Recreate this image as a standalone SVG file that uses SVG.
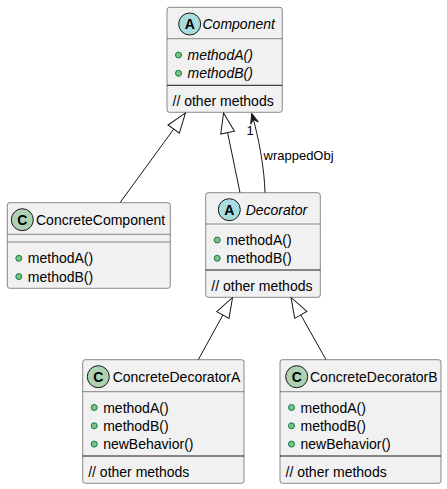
<svg xmlns="http://www.w3.org/2000/svg" width="447" height="489" viewBox="0 0 447 489">
<defs>
<style>
.box{fill:#F1F1F1;stroke:#181818;stroke-width:0.5}
.hsep{stroke:#181818;stroke-width:0.5}
.bsep{stroke:#181818;stroke-width:1}
.circA{fill:#A9DCDF;stroke:#181818;stroke-width:1}
.circC{fill:#ADD1B2;stroke:#181818;stroke-width:1}
.glyph{font-family:"Liberation Sans",Arial,sans-serif;font-size:14px;font-weight:bold;fill:#000000;text-anchor:middle}
.name{font-family:"Liberation Sans",Arial,sans-serif;font-size:14px;fill:#000000}
.mem{font-family:"Liberation Sans",Arial,sans-serif;font-size:14px;fill:#000000}
.it{font-style:italic}
.dot{fill:#84BE84;stroke:#038048;stroke-width:1}
.edge{fill:none;stroke:#181818;stroke-width:1}
.lbl{font-family:"Liberation Sans",Arial,sans-serif;font-size:13px;fill:#000000}
</style>
<marker id="ext" markerUnits="userSpaceOnUse" markerWidth="22" markerHeight="16" viewBox="-1 -8 22 16" refX="0" refY="0" orient="auto">
<polygon points="0,-7 20,0 0,7" fill="none" stroke="#181818" stroke-width="1"/>
</marker>
<marker id="arr" markerUnits="userSpaceOnUse" markerWidth="12" markerHeight="10" viewBox="-11 -5 12 10" refX="0" refY="0" orient="auto">
<polygon points="0,0 -10,-4 -6,0 -10,4" fill="#181818" stroke="#181818" stroke-width="1"/>
</marker>
</defs>
<rect width="447" height="489" fill="#FFFFFF"/>

<g id="connectors">
<path class="edge" d="M120,202.7 L173.7,129.1" marker-end="url(#ext)"/>
<path class="edge" d="M240,192.7 L227.6,132.6" marker-end="url(#ext)"/>
<path class="edge" d="M265,192.7 C264.5,170 259,138 251.7,113.5" marker-end="url(#arr)"/>
<text class="lbl" x="246.5" y="135">1</text>
<text class="lbl" x="263.5" y="159.5">wrappedObj</text>
<path class="edge" d="M198.3,359.7 L222.9,315" marker-end="url(#ext)"/>
<path class="edge" d="M326,359.7 L300.8,314.9" marker-end="url(#ext)"/>
</g>

<g id="Component">
<rect class="box" x="167" y="7.3" width="115.3" height="105" rx="2.5" ry="2.5"/>
<circle class="circA" cx="189.7" cy="24" r="11"/>
<text class="glyph" x="189.7" y="29">A</text>
<text class="name it" x="202.5" y="29">Component</text>
<line class="hsep" x1="167" y1="38.7" x2="282.3" y2="38.7"/>
<circle class="dot" cx="178.5" cy="55" r="3"/>
<text class="mem it" x="187.5" y="60">methodA()</text>
<circle class="dot" cx="178.5" cy="73.3" r="3"/>
<text class="mem it" x="187.5" y="78.3">methodB()</text>
<line class="bsep" x1="167" y1="85.3" x2="282.3" y2="85.3"/>
<text class="mem" x="172.5" y="105.7">// other methods</text>
</g>

<g id="ConcreteComponent">
<rect class="box" x="7.3" y="202.7" width="163" height="85.6" rx="2.5" ry="2.5"/>
<circle class="circC" cx="22.3" cy="219.7" r="11"/>
<text class="glyph" x="22.3" y="224.7">C</text>
<text class="name" x="36" y="224.7">ConcreteComponent</text>
<line class="hsep" x1="7.3" y1="234.3" x2="170.3" y2="234.3"/>
<line class="hsep" x1="7.3" y1="242" x2="170.3" y2="242"/>
<circle class="dot" cx="18.8" cy="258.3" r="3"/>
<text class="mem" x="27.8" y="263.3">methodA()</text>
<circle class="dot" cx="18.8" cy="276.6" r="3"/>
<text class="mem" x="27.8" y="281.6">methodB()</text>
</g>

<g id="Decorator">
<rect class="box" x="205.7" y="192.7" width="114.6" height="104.6" rx="2.5" ry="2.5"/>
<circle class="circA" cx="229.3" cy="209.7" r="11"/>
<text class="glyph" x="229.3" y="214.7">A</text>
<text class="name it" x="245.7" y="214.7">Decorator</text>
<line class="hsep" x1="205.7" y1="224" x2="320.3" y2="224"/>
<circle class="dot" cx="217.2" cy="240" r="3"/>
<text class="mem" x="226.2" y="245">methodA()</text>
<circle class="dot" cx="217.2" cy="258.3" r="3"/>
<text class="mem" x="226.2" y="263.3">methodB()</text>
<line class="bsep" x1="205.7" y1="270" x2="320.3" y2="270"/>
<text class="mem" x="211.3" y="291">// other methods</text>
</g>

<g id="ConcreteDecoratorA">
<rect class="box" x="82.7" y="359.7" width="161.3" height="123.6" rx="2.5" ry="2.5"/>
<circle class="circC" cx="98.3" cy="376.7" r="11"/>
<text class="glyph" x="98.3" y="381.7">C</text>
<text class="name" x="112.7" y="381.7">ConcreteDecoratorA</text>
<line class="hsep" x1="82.7" y1="391.7" x2="244" y2="391.7"/>
<circle class="dot" cx="94.2" cy="407.5" r="3"/>
<text class="mem" x="103.2" y="412.5">methodA()</text>
<circle class="dot" cx="94.2" cy="425.8" r="3"/>
<text class="mem" x="103.2" y="430.8">methodB()</text>
<circle class="dot" cx="94.2" cy="444.1" r="3"/>
<text class="mem" x="103.2" y="449.1">newBehavior()</text>
<line class="bsep" x1="82.7" y1="456" x2="244" y2="456"/>
<text class="mem" x="88.2" y="477">// other methods</text>
</g>

<g id="ConcreteDecoratorB">
<rect class="box" x="280" y="359.7" width="161" height="123.6" rx="2.5" ry="2.5"/>
<circle class="circC" cx="296.7" cy="376.7" r="11"/>
<text class="glyph" x="296.7" y="381.7">C</text>
<text class="name" x="310" y="381.7">ConcreteDecoratorB</text>
<line class="hsep" x1="280" y1="391.7" x2="441" y2="391.7"/>
<circle class="dot" cx="291.5" cy="407.5" r="3"/>
<text class="mem" x="300.5" y="412.5">methodA()</text>
<circle class="dot" cx="291.5" cy="425.8" r="3"/>
<text class="mem" x="300.5" y="430.8">methodB()</text>
<circle class="dot" cx="291.5" cy="444.1" r="3"/>
<text class="mem" x="300.5" y="449.1">newBehavior()</text>
<line class="bsep" x1="280" y1="456" x2="441" y2="456"/>
<text class="mem" x="285.5" y="477">// other methods</text>
</g>
</svg>
